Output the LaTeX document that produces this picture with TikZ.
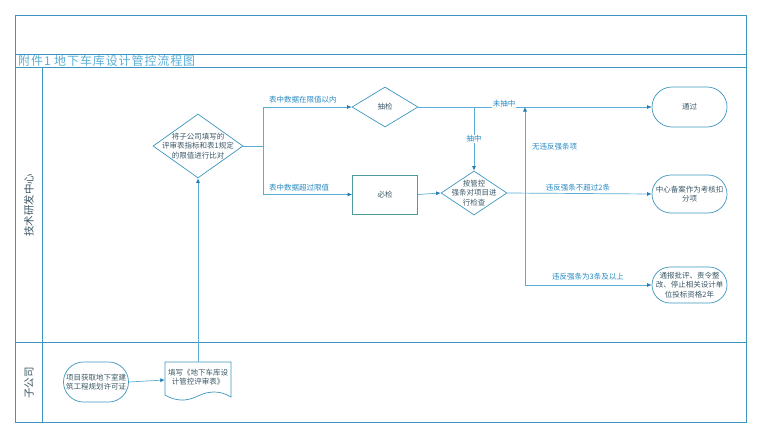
\documentclass[tikz,border=0pt]{standalone}
\usepackage{fontspec}
\setmainfont{Noto Sans CJK SC}
\newfontfamily\titlefont[LetterSpace=7.5]{Noto Sans CJK SC}
\usepackage{xcolor}
\usetikzlibrary{arrows.meta,shapes.geometric,positioning}
\definecolor{laneblue}{HTML}{3D95BF}
\definecolor{flowblue}{HTML}{5AAED6}
\definecolor{tipblue}{HTML}{1F7DB8}
\definecolor{txtgray}{HTML}{3B5866}
\definecolor{lblblue}{HTML}{2688C2}
\definecolor{boxteal}{HTML}{4E9A9E}

\begin{document}
\begin{tikzpicture}[x=1pt,y=-1pt,font=\fontsize{7.5}{9.5}\selectfont,
  lane/.style={draw=laneblue,line width=0.8pt},
  flow/.style={draw=flowblue,line width=0.7pt,-{Latex[length=4.5pt,width=4pt,color=tipblue]}},
  conn/.style={draw=flowblue,line width=0.7pt},
  decision/.style={diamond,draw=laneblue,line width=0.7pt,inner sep=0pt},
  term/.style={rectangle,draw=laneblue,line width=0.7pt,inner sep=0pt},
  txt/.style={text=txtgray,align=center,inner sep=0pt},
  lbl/.style={text=lblblue,inner sep=1pt}]
  \useasboundingbox (0,0) rectangle (760,428);
  % frame and lanes
  \draw[lane] (15,15) rectangle (746,422);
  \draw[lane] (15,54) -- (746,54);
  \draw[lane] (15,67) -- (746,67);
  \draw[lane] (42,67) -- (42,422);
  \draw[lane] (15,342) -- (746,342);
  \node[anchor=west,text=flowblue,font=\titlefont\fontsize{12}{14}\selectfont,inner sep=0pt] (title) at (18,60.5) {附件1\ 地下车库设计管控流程图};
  \node[rotate=90,text=txtgray,font=\fontsize{10.5}{12}\selectfont] (lanetech) at (29,205) {技术研发中心};
  \node[rotate=90,text=txtgray,font=\fontsize{10.5}{12}\selectfont] (lanesub) at (29,383) {子公司};
  % shapes
  \node[decision,minimum width=90,minimum height=64] (cmp) at (198,146) {};
  \node[txt] (cmptxt) at (cmp) {将子公司填写的\\评审表指标和表1规定\\的限值进行比对};
  \node[decision,minimum width=66,minimum height=40] (chk) at (385,107) {};
  \node[txt] (chktxt) at (chk) {抽检};
  \node[rectangle,draw=boxteal,line width=0.7pt,minimum width=65,minimum height=39] (must) at (385,194.5) {};
  \node[txt] (musttxt) at (must) {必检};
  \node[decision,minimum width=66,minimum height=44] (ctl) at (474,193) {};
  \node[txt] (ctltxt) at (ctl) {按管控\\强条对项目进\\行检查};
  \node[term,rounded corners=20,minimum width=75,minimum height=40] (pass) at (689.5,107) {};
  \node[txt] (passtxt) at (pass) {通过};
  \node[term,rounded corners=19,minimum width=75,minimum height=38] (rec) at (689.5,194) {};
  \node[txt] (rectxt) at (rec) {中心备案作为考核扣\\分项};
  \node[term,rounded corners=18,minimum width=75,minimum height=36] (rep) at (689.5,285) {};
  \node[txt] (reptxt) at (rep) {通报批评、责令整\\改、停止相关设计单\\位投标资格2年};
  \node[term,rounded corners=20,minimum width=65,minimum height=40] (prj) at (96,382) {};
  \node[txt] (prjtxt) at (prj) {项目获取地下室建\\筑工程规划许可证};
  \node[minimum width=66,minimum height=36,inner sep=0pt] (form) at (198,380) {};
  \draw[draw=laneblue,line width=0.7pt] (165,362) -- (231,362) -- (231,397)
    .. controls (220,390) and (208,391) .. (198,396)
    .. controls (186,402) and (175,401) .. (165,395) -- cycle;
  \node[txt] (formtxt) at (198,377) {填写《地下车库设\\计管控评审表》};
  % connectors
  \coordinate (split) at (263,146);
  \coordinate (hit) at (474,107);
  \coordinate (jn) at (525,194);
  \coordinate (jt) at (525,107);
  \draw[flow] (prj.east) -- (form.west);
  \draw[flow] (form.north) -- (cmp.south);
  \draw[conn] (cmp.east) -- (split);
  \draw[flow] (split) |- (chk.west);
  \draw[flow] (split) |- (must.west);
  \draw[flow] (chk.east) -- (pass.west);
  \draw[flow] (hit) -- (ctl.north);
  \draw[flow] (must.east) -- (ctl.west);
  \draw[flow] (ctl.east) -- (rec.west);
  \draw[flow] (jn) -- (jt);
  \draw[flow] (jn) |- (rep.west);
  % labels
  \node[lbl,anchor=west] (lin) at (268,100) {表中数据在限值以内};
  \node[lbl,anchor=west] (lout) at (268,188) {表中数据超过限值};
  \node[lbl,fill=white] (lmiss) at (504,104) {未抽中};
  \node[lbl,fill=white] (lhit) at (474,139) {抽中};
  \node[lbl,anchor=west] (lnone) at (531,147) {无违反强条项};
  \node[lbl] (lfew) at (578,187.5) {违反强条不超过2条};
  \node[lbl] (lmany) at (588,277) {违反强条为3条及以上};
\end{tikzpicture}
\end{document}
